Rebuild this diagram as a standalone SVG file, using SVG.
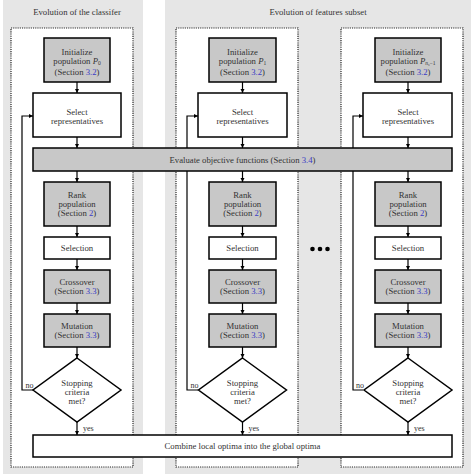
<svg xmlns="http://www.w3.org/2000/svg" width="474" height="474" viewBox="0 0 474 474">
<defs>
<marker id="ah" viewBox="0 0 6 6" refX="6" refY="3" markerWidth="4.5" markerHeight="4.5" markerUnits="userSpaceOnUse" orient="auto"><path d="M0,0 L6,3 L0,6 Z" fill="#000"/></marker>
<style>
text{font-family:"Liberation Serif","DejaVu Serif",serif;font-size:8.7px;fill:#333;text-anchor:middle}
.g{fill:#c8c8c8;stroke:#000;stroke-width:1.5}
.w{fill:#fff;stroke:#000;stroke-width:1.5}
.panel{fill:#e6e6e6}
.dot{fill:#fff;stroke:#222;stroke-width:1.2;stroke-dasharray:1.1 1.1}
.c{fill:none;stroke:#000;stroke-width:1.2;marker-end:url(#ah)}
.b{fill:#3b3bc4}
.lab{text-anchor:start;font-size:8px}
</style>
</defs>
<rect width="474" height="474" fill="#fff"/>
<g id="panels">
<rect class="panel" x="3" y="0" width="140" height="474"/>
<rect class="panel" x="165" y="0" width="306" height="474"/>
<text x="77" y="15">Evolution of the classifer</text>
<text x="318" y="15">Evolution of features subset</text>
<rect class="dot" x="11" y="28" width="122" height="439"/>
<rect class="dot" x="176" y="28" width="122" height="439"/>
<rect class="dot" x="341" y="28" width="122" height="439"/>
</g>
<g id="connectors">
<path class="c" d="M77,82 V93"/><path class="c" d="M77,137 V148"/><path class="c" d="M77,171 V182"/><path class="c" d="M77,226 V237"/><path class="c" d="M77,259 V270"/><path class="c" d="M77,303 V314"/><path class="c" d="M77,347 V358"/><path class="c" d="M77,422 V435"/>
<path class="c" d="M33,390 H22 V116 H33"/>
<path class="c" d="M242.5,82 V93"/><path class="c" d="M242.5,137 V148"/><path class="c" d="M242.5,171 V182"/><path class="c" d="M242.5,226 V237"/><path class="c" d="M242.5,259 V270"/><path class="c" d="M242.5,303 V314"/><path class="c" d="M242.5,347 V358"/><path class="c" d="M242.5,422 V435"/>
<path class="c" d="M198,390 H187 V116 H198"/>
<path class="c" d="M408,82 V93"/><path class="c" d="M408,137 V148"/><path class="c" d="M408,171 V182"/><path class="c" d="M408,226 V237"/><path class="c" d="M408,259 V270"/><path class="c" d="M408,303 V314"/><path class="c" d="M408,347 V358"/><path class="c" d="M408,422 V435"/>
<path class="c" d="M363,390 H353 V116 H363"/>
<text class="lab" x="25.5" y="387.5">no</text><text class="lab" x="190.5" y="387.5">no</text><text class="lab" x="356" y="387.5">no</text>
<text class="lab" x="83" y="431">yes</text><text class="lab" x="248.5" y="431">yes</text><text class="lab" x="414" y="431">yes</text>
</g>
<g id="init0"><rect class="g" x="44" y="38" width="66" height="44"/><text x="77" y="54.5">Initialize</text><text x="77" y="64">population <tspan font-style="italic">P</tspan><tspan font-size="5.5" baseline-shift="-1">0</tspan></text><text x="77" y="75">(Section <tspan class="b">3.2</tspan>)</text></g>
<g id="init1"><rect class="g" x="209" y="38" width="67" height="44"/><text x="242.5" y="54.5">Initialize</text><text x="242.5" y="64">population <tspan font-style="italic">P</tspan><tspan font-size="5.5" baseline-shift="-1">1</tspan></text><text x="242.5" y="75">(Section <tspan class="b">3.2</tspan>)</text></g>
<g id="init2"><rect class="g" x="375" y="38" width="66" height="44"/><text x="408" y="54.5">Initialize</text><text x="408" y="64">population <tspan font-style="italic">P</tspan><tspan font-size="5.5" baseline-shift="-1"><tspan font-style="italic">n<tspan font-size="4" baseline-shift="-0.6">s</tspan></tspan>−1</tspan></text><text x="408" y="75">(Section <tspan class="b">3.2</tspan>)</text></g>
<g id="sel0"><rect class="w" x="33" y="93" width="88" height="44"/><text x="77" y="114.5">Select</text><text x="77" y="123.5">representatives</text></g>
<g id="sel1"><rect class="w" x="198" y="93" width="89" height="44"/><text x="242.5" y="114.5">Select</text><text x="242.5" y="123.5">representatives</text></g>
<g id="sel2"><rect class="w" x="363" y="93" width="89" height="44"/><text x="408" y="114.5">Select</text><text x="408" y="123.5">representatives</text></g>
<g id="evaluate"><rect class="g" x="33" y="148" width="419" height="23"/><text x="242.5" y="162.5">Evaluate objective functions (Section <tspan class="b">3.4</tspan>)</text></g>
<g id="rank0"><rect class="g" x="44" y="182" width="66" height="44"/><text x="77" y="198">Rank</text><text x="77" y="206.5">population</text><text x="77" y="215.5">(Section <tspan class="b">2</tspan>)</text></g>
<g id="rank1"><rect class="g" x="209" y="182" width="67" height="44"/><text x="242.5" y="198">Rank</text><text x="242.5" y="206.5">population</text><text x="242.5" y="215.5">(Section <tspan class="b">2</tspan>)</text></g>
<g id="rank2"><rect class="g" x="375" y="182" width="66" height="44"/><text x="408" y="198">Rank</text><text x="408" y="206.5">population</text><text x="408" y="215.5">(Section <tspan class="b">2</tspan>)</text></g>
<g id="selection0"><rect class="w" x="44" y="237" width="66" height="22"/><text x="77" y="251">Selection</text></g>
<g id="selection1"><rect class="w" x="209" y="237" width="67" height="22"/><text x="242.5" y="251">Selection</text></g>
<g id="selection2"><rect class="w" x="375" y="237" width="66" height="22"/><text x="408" y="251">Selection</text></g>
<g id="cross0"><rect class="g" x="44" y="270" width="66" height="33"/><text x="77" y="285">Crossover</text><text x="77" y="294">(Section <tspan class="b">3.3</tspan>)</text></g>
<g id="cross1"><rect class="g" x="209" y="270" width="67" height="33"/><text x="242.5" y="285">Crossover</text><text x="242.5" y="294">(Section <tspan class="b">3.3</tspan>)</text></g>
<g id="cross2"><rect class="g" x="375" y="270" width="66" height="33"/><text x="408" y="285">Crossover</text><text x="408" y="294">(Section <tspan class="b">3.3</tspan>)</text></g>
<g id="mut0"><rect class="g" x="44" y="314" width="66" height="33"/><text x="77" y="329">Mutation</text><text x="77" y="338">(Section <tspan class="b">3.3</tspan>)</text></g>
<g id="mut1"><rect class="g" x="209" y="314" width="67" height="33"/><text x="242.5" y="329">Mutation</text><text x="242.5" y="338">(Section <tspan class="b">3.3</tspan>)</text></g>
<g id="mut2"><rect class="g" x="375" y="314" width="66" height="33"/><text x="408" y="329">Mutation</text><text x="408" y="338">(Section <tspan class="b">3.3</tspan>)</text></g>
<g id="stop0"><polygon class="w" points="77,358 121,390 77,422 33,390"/><text x="77" y="386">Stopping</text><text x="77" y="395">criteria</text><text x="77" y="403.5">met?</text></g>
<g id="stop1"><polygon class="w" points="242.5,358 286.5,390 242.5,422 198.5,390"/><text x="242.5" y="386">Stopping</text><text x="242.5" y="395">criteria</text><text x="242.5" y="403.5">met?</text></g>
<g id="stop2"><polygon class="w" points="408,358 452,390 408,422 364,390"/><text x="408" y="386">Stopping</text><text x="408" y="395">criteria</text><text x="408" y="403.5">met?</text></g>
<g id="combine"><rect class="w" x="33" y="435" width="419" height="22"/><text x="242.5" y="449">Combine local optima into the global optima</text></g>
<g id="ellipsis"><circle cx="312.5" cy="249" r="2.3" fill="#000"/><circle cx="320" cy="249" r="2.3" fill="#000"/><circle cx="327.5" cy="249" r="2.3" fill="#000"/></g>
</svg>
